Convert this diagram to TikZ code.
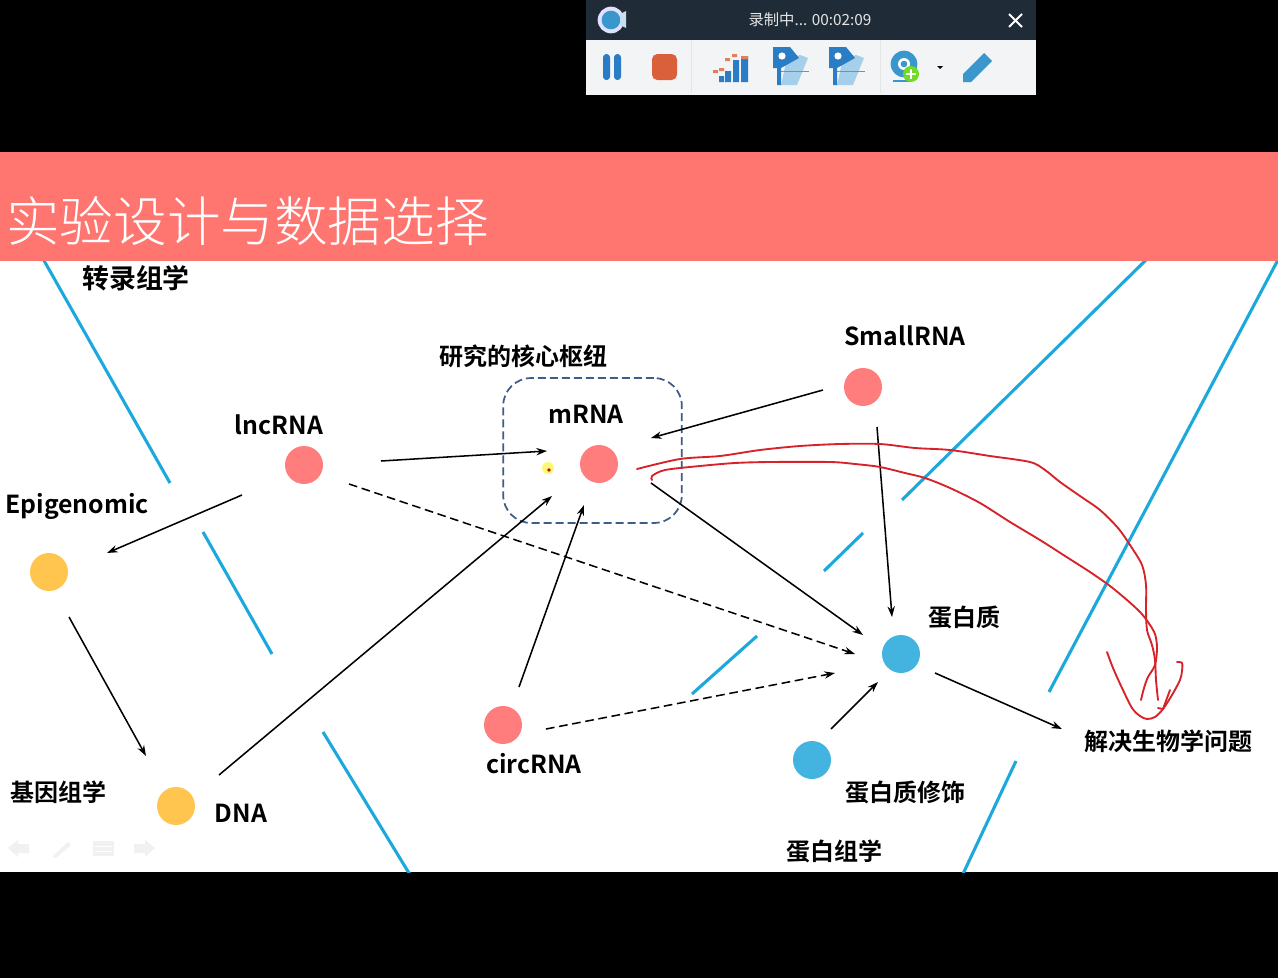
\documentclass[tikz,border=0pt]{standalone}
\usepackage{fontspec}
\usetikzlibrary{arrows.meta}
\setmainfont{Noto Sans CJK SC}
\newfontfamily\labfont{Noto Sans CJK SC Bold}
\newfontfamily\thinfont{Noto Sans CJK SC Light}
\definecolor{band}{HTML}{FF7570}
\definecolor{rednode}{HTML}{FF7D7D}
\definecolor{yellownode}{HTML}{FFC54F}
\definecolor{bluenode}{HTML}{43B4DF}
\definecolor{skyline}{HTML}{1BA8DC}
\definecolor{boxline}{HTML}{3E5C85}
\definecolor{ink}{HTML}{D8222A}
\definecolor{barbg}{HTML}{1F2B36}
\definecolor{toolbg}{HTML}{F2F4F6}
\definecolor{tool}{HTML}{2A7CC4}
\definecolor{toolb}{HTML}{3A97CE}
\definecolor{orng}{HTML}{D9603A}
\definecolor{navg}{HTML}{F1F1F1}
\tikzset{
  dot/.style={circle,minimum size=28.5pt,inner sep=0pt,fill=#1},
  lab/.style={inner sep=0pt,font=\labfont\fontsize{18pt}{20pt}\selectfont,text=black},
  latinlab/.style={inner sep=0pt,font=\labfont\fontsize{18.6pt}{20pt}\selectfont,text=black},
  arr/.style={black,line width=1.15pt,-{Stealth[length=8pt,width=5.5pt]}},
  darr/.style={arr,dash pattern=on 6.5pt off 3.5pt},
  sky/.style={skyline,line width=2.3pt},
  pen/.style={ink,line width=1.4pt,line cap=round,line join=round},
}
\begin{document}
\begin{tikzpicture}[x=.75pt,y=-.75pt]
\useasboundingbox (0,0) rectangle (1278,978);
\fill[black] (0,0) rectangle (1278,978);
\fill[white] (0,261) rectangle (1278,872);
\fill[band] (0,152) rectangle (1278,261);
\node[anchor=west,inner sep=0pt,text=white,font=\thinfont\fontsize{40.2pt}{44pt}\selectfont] (title) at (6,221) {实验设计与数据选择};
% toolbar
\fill[barbg] (586,0) rectangle (1036,40);
\fill[toolbg] (586,40) rectangle (1036,95);
\node[text=white!90!black,inner sep=0pt,font=\fontsize{11.5pt}{13pt}\selectfont] (rec) at (810,20) {录制中... 00:02:09};
\draw[white,line width=1.5pt] (1009,14) -- (1022,27) (1022,14) -- (1009,27);
\fill[white!88!blue] (611,20) circle (10pt);
\fill[toolb] (611,20) circle (7pt);
\fill[white!70!toolb] (620,14) -- (626,11) -- (626,28) -- (620,25) -- cycle;
\fill[tool,rounded corners=2.5pt] (603,54) rectangle (610,80) (614,54) rectangle (621,80);
\fill[orng,rounded corners=4pt] (652,54) rectangle (677,80);
\draw[black!10] (691,40) -- (691,93) (880,40) -- (880,93);
\fill[tool] (719,76) rectangle (724,82) (725,71) rectangle (731,82) (733,60) rectangle (739,82) (741,56) rectangle (748,82);
\fill[orng!80] (713,70) rectangle (718,73) (719,68) rectangle (724,71) (725,58) rectangle (730,61) (732,54) rectangle (737,57) (741,56) rectangle (748,59);
\foreach \dx in {0,56}{
  \begin{scope}[xshift=\dx*.75pt]
  \fill[toolb!45] (787,58) -- (800,55) -- (808,58) -- (797,85) -- (781,85) -- cycle;
  \draw[black!45] (781,71) -- (809,71);
  \fill[tool] (773,47) -- (790,47) -- (799,58) -- (781,68) -- (781,85) -- (777,85) -- (777,68) -- (773,68) -- cycle;
  \fill[white] (782,56) circle (2.7pt);
  \end{scope}
}
\fill[toolb] (904,64) circle (10pt);
\fill[white] (904,64) circle (4.5pt);
\fill[toolb] (904,64) circle (2.5pt);
\fill[toolb] (893,80) rectangle (912,82);
\fill[green!60!gray!70!yellow] (911,74) circle (6pt);
\draw[white,line width=.8pt] (906,74) -- (916,74) (911,69) -- (911,79);
\fill[black] (937,66) -- (943,66) -- (940,69) -- cycle;
\fill[toolb] (963,74) -- (984,53) -- (992,61) -- (971,82) -- (963,82) -- cycle;
% blue lines
\begin{scope}
\clip (0,261) rectangle (1278,872);
\draw[sky] (42,257) -- (170,483);
\draw[sky] (203,532) -- (272,654);
\draw[sky] (323,732) -- (412,878);
\draw[sky] (1150,256) -- (902,500);
\draw[sky] (863,533) -- (824,571);
\draw[sky] (757,636) -- (692,694);
\draw[sky] (1280,256) -- (1049,692);
\draw[sky] (1016,761) -- (962,876);
\end{scope}
% group box
\node[draw=boxline,dash pattern=on 6pt off 3pt,line width=1.3pt,rounded corners=21pt,minimum width=134pt,minimum height=108.7pt,inner sep=0pt] (hub) at (592.5,450.5) {};
% nodes
\node[dot=rednode] (lnc) at (304,465) {};
\node[dot=rednode] (mrna) at (599,464) {};
\node[dot=rednode] (small) at (863,387) {};
\node[dot=rednode] (circ) at (503,725) {};
\node[dot=yellownode] (epi) at (49,572) {};
\node[dot=yellownode] (dna) at (176,806) {};
\node[dot=bluenode] (prot) at (901,654) {};
\node[dot=bluenode] (mod) at (812,760) {};
% cursor
\fill[yellow!55!white] (548,468) circle (4.5pt);
\fill[red!80!black] (549,470) circle (1.4pt);
% labels
\node[lab,font=\labfont\fontsize{20.2pt}{22pt}\selectfont] (t1) at (136,278) {转录组学};
\node[lab] (t2) at (523,356) {研究的核心枢纽};
\node[latinlab] (t3) at (905,336) {SmallRNA};
\node[latinlab] (t4) at (279,425) {lncRNA};
\node[latinlab] (t5) at (586,414) {mRNA};
\node[latinlab] (t6) at (77,506) {Epigenomic};
\node[lab] (t7) at (964,617) {蛋白质};
\node[lab] (goal) at (1168,741) {解决生物学问题};
\node[lab] (t9) at (58,792) {基因组学};
\node[latinlab] (t10) at (241,813) {DNA};
\node[latinlab] (t11) at (534,764) {circRNA};
\node[lab] (t12) at (905,792) {蛋白质修饰};
\node[lab] (t13) at (834,851) {蛋白组学};
% connector ends
\coordinate (a1) at (381,461); \coordinate (a2) at (547,451);
\coordinate (b1) at (823,390); \coordinate (b2) at (651,438);
\coordinate (c1) at (877,427); \coordinate (c2) at (892,617);
\coordinate (d1) at (651,483); \coordinate (d2) at (863,635);
\coordinate (e1) at (349,484); \coordinate (e2) at (855,654);
\coordinate (f1) at (546,729); \coordinate (f2) at (835,673);
\coordinate (g1) at (519,687); \coordinate (g2) at (584,505);
\coordinate (h1) at (219,775); \coordinate (h2) at (552,496);
\coordinate (i1) at (242,495); \coordinate (i2) at (107,553);
\coordinate (j1) at (69,617); \coordinate (j2) at (146,756);
\coordinate (k1) at (831,729); \coordinate (k2) at (878,682);
\coordinate (l1) at (935,673); \coordinate (l2) at (1062,729);
\draw[arr] (a1) -- (a2);
\draw[arr] (b1) -- (b2);
\draw[arr] (c1) -- (c2);
\draw[arr] (d1) -- (d2);
\draw[darr] (e1) -- (e2);
\draw[darr] (f1) -- (f2);
\draw[arr] (g1) -- (g2);
\draw[arr] (h1) -- (h2);
\draw[arr] (i1) -- (i2);
\draw[arr] (j1) -- (j2);
\draw[arr] (k1) -- (k2);
\draw[arr] (l1) -- (l2);
% hand-drawn pen strokes
\draw[pen] plot[smooth,tension=.5] coordinates {(637,469) (680,459) (720,456) (760,450) (800,446) (840,444) (880,444) (915,448) (950,450) (990,456) (1030,462) (1045,470) (1060,482) (1080,496) (1100,510) (1118,528) (1130,545) (1142,565) (1146,585) (1146,610) (1147,630) (1152,645) (1155,660) (1156,680) (1158,700)};
\draw[pen] plot[smooth,tension=.5] coordinates {(652,480) (652,476) (665,470) (700,466) (735,463) (770,462) (830,462) (855,464) (880,467) (905,473) (925,478) (950,488) (980,503) (1010,522) (1040,540) (1065,556) (1090,572) (1110,586) (1127,600) (1140,612) (1148,622) (1155,634) (1157,648) (1155,665) (1148,677) (1144,688) (1141,700)};
\draw[pen] plot[smooth,tension=.5] coordinates {(1107,652) (1113,668) (1122,688) (1132,708) (1140,716) (1147,719) (1155,717) (1163,709) (1172,695) (1180,680) (1182,671) (1182,663) (1177,662)};
\draw[pen] (1158,708) -- (1163,709) -- (1170,690);
% slide-show controls
\fill[navg] (8,848) -- (18,840) -- (18,844) -- (29,844) -- (29,853) -- (18,853) -- (18,857) -- cycle;
\fill[navg] (52,857) -- (68,842) -- (71,845) -- (56,858) -- cycle;
\fill[navg] (93,841) rectangle (114,856);
\draw[white] (95,846) -- (112,846) (95,851) -- (112,851);
\fill[navg] (155,848) -- (145,840) -- (145,844) -- (134,844) -- (134,853) -- (145,853) -- (145,857) -- cycle;
\end{tikzpicture}
\end{document}
